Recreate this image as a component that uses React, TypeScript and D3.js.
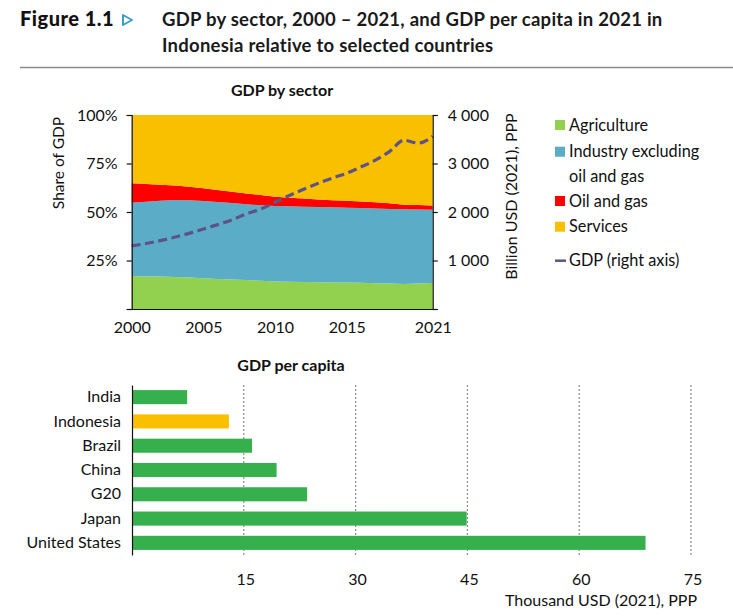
import React, { useEffect, useRef } from "react";
import * as d3 from "d3";

const years = [2000,2001,2002,2003,2004,2005,2006,2007,2008,2009,2010,2011,2012,2013,2014,2015,2016,2017,2018,2019,2020,2021];
const agriculture = [17.0,16.8,16.7,16.5,16.2,15.8,15.5,15.2,14.9,14.6,14.2,14.0,13.9,13.8,13.7,13.6,13.5,13.3,13.1,12.9,13.2,13.4];
const industry = [37.8,38.5,39.1,39.7,39.9,39.9,39.7,39.4,39.1,38.9,38.9,38.9,38.8,38.8,38.7,38.6,38.5,38.5,38.5,38.5,38.1,37.8];
const oilGas = [10.0,9.1,8.2,7.5,6.9,6.5,6.1,5.8,5.6,5.3,4.8,4.5,4.2,3.9,3.7,3.6,3.4,3.2,2.9,2.4,2.3,2.2];
const services = [35.2,35.6,36.0,36.3,37.0,37.8,38.7,39.6,40.4,41.2,42.1,42.6,43.1,43.5,43.9,44.2,44.6,45.0,45.5,46.2,46.4,46.6];
const gdp = [1300,1350,1410,1480,1560,1650,1740,1840,1960,2060,2200,2340,2470,2590,2700,2800,2930,3070,3250,3480,3420,3560];

const sectorKeys = ["Agriculture", "Industry excluding oil and gas", "Oil and gas", "Services"];
const sectorColors = ["#92D050", "#5BACC6", "#FF0000", "#F9C000"];
const yearTicks = [2000, 2005, 2010, 2015, 2021];
const shareTicks = [0, 0.25, 0.5, 0.75, 1];
const gdpTicks = [0, 1000, 2000, 3000, 4000];

const countries = ["India", "Indonesia", "Brazil", "China", "G20", "Japan", "United States"];
const gdpPerCapita = [7.4, 13.0, 16.1, 19.4, 23.5, 44.9, 68.9];
const capitaTicks = [15, 30, 45, 60, 75];

const FONT = "Lato, 'Open Sans', sans-serif";
const FS = 16;

export default function App() {
  const ref = useRef<SVGSVGElement>(null);

  useEffect(() => {
    const svg = d3.select(ref.current);
    svg.selectAll("*").remove();

    // Header
    svg.append("text").attr("x", 20).attr("y", 26).text("Figure 1.1")
      .attr("font-family", FONT).attr("font-weight", 900).attr("font-size", 20).attr("letter-spacing", 0.5).attr("fill", "#111");
    svg.append("path").attr("d", "M123,15 L132,20 L123,25 Z")
      .attr("fill", "#fff").attr("stroke", "#3A9BD0").attr("stroke-width", 2).attr("stroke-linejoin", "round");
    svg.append("text").attr("x", 162).attr("y", 26).text("GDP by sector, 2000 \u2013 2021, and GDP per capita in 2021 in")
      .attr("font-family", FONT).attr("font-weight", 700).attr("font-size", 18.5).attr("letter-spacing", 0.25).attr("fill", "#1a1a1a");
    svg.append("text").attr("x", 162).attr("y", 52).text("Indonesia relative to selected countries")
      .attr("font-family", FONT).attr("font-weight", 700).attr("font-size", 18.5).attr("letter-spacing", 0.25).attr("fill", "#1a1a1a");
    svg.append("line").attr("x1", 20).attr("x2", 733).attr("y1", 67.5).attr("y2", 67.5)
      .attr("stroke", "#8a8a8a").attr("stroke-width", 1.5);

    // Top chart
    const x = d3.scaleLinear().domain([2000, 2021]).range([131.7, 432.7]);
    const y = d3.scaleLinear().domain([0, 1]).range([309, 115]);
    const yR = d3.scaleLinear().domain([0, 4000]).range([309, 115]);

    const rows = years.map((yr, i) => ({
      year: yr,
      [sectorKeys[0]]: agriculture[i] / 100,
      [sectorKeys[1]]: industry[i] / 100,
      [sectorKeys[2]]: oilGas[i] / 100,
      [sectorKeys[3]]: services[i] / 100,
    }));
    const series = d3.stack<any>().keys(sectorKeys)(rows as any);
    const area = d3.area<any>()
      .x((d) => x(d.data.year))
      .y0((d) => y(d[0]))
      .y1((d) => y(Math.min(1, d[1])));

    svg.append("g").selectAll("path").data(series).join("path")
      .attr("d", area as any)
      .attr("fill", (_d, i) => sectorColors[i]);

    const line = d3.line<number>().x((_d, i) => x(years[i])).y((d) => yR(d)).curve(d3.curveMonotoneX);
    svg.append("path").datum(gdp).attr("d", line)
      .attr("fill", "none").attr("stroke", "#5E5386").attr("stroke-width", 3.2)
      .attr("stroke-dasharray", "9,4.5");

    const leftAxis = svg.append("g").attr("transform", "translate(131.7,0)")
      .call(d3.axisLeft(y).tickValues(shareTicks).tickSize(5).tickPadding(9)
        .tickFormat((d: any) => (d === 0 ? "" : `${Math.round(d * 100)}%`)));
    const rightAxis = svg.append("g").attr("transform", "translate(432.7,0)")
      .call(d3.axisRight(yR).tickValues(gdpTicks).tickSize(5).tickPadding(10)
        .tickFormat((d: any) => (d === 0 ? "" : `${d / 1000} 000`)));
    const bottomAxis = svg.append("g").attr("transform", "translate(0,309)")
      .call(d3.axisBottom(x).tickValues(yearTicks).tickSize(0).tickPadding(13).tickFormat(d3.format("d")));

    [leftAxis, rightAxis, bottomAxis].forEach((g) => {
      g.selectAll("text").attr("font-family", FONT).attr("font-size", FS).attr("fill", "#111");
      g.selectAll("path,line").attr("stroke", "#111").attr("stroke-width", 1.2);
    });

    svg.append("text").attr("x", 282).attr("y", 96).attr("text-anchor", "middle").text("GDP by sector")
      .attr("font-family", FONT).attr("font-weight", 700).attr("font-size", 16).attr("fill", "#111");
    svg.append("text").attr("transform", "translate(64,163) rotate(-90)").attr("text-anchor", "middle")
      .text("Share of GDP").attr("font-family", FONT).attr("font-size", 15.5).attr("fill", "#111");
    svg.append("text").attr("transform", "translate(517,196.5) rotate(-90)").attr("text-anchor", "middle")
      .text("Billion USD (2021), PPP").attr("font-family", FONT).attr("font-size", FS).attr("fill", "#111");

    // Legend
    const legendItems = [
      { label: ["Agriculture"], color: sectorColors[0], y: 125 },
      { label: ["Industry excluding", "oil and gas"], color: sectorColors[1], y: 151.7 },
      { label: ["Oil and gas"], color: sectorColors[2], y: 201 },
      { label: ["Services"], color: sectorColors[3], y: 226.7 },
    ];
    legendItems.forEach((it) => {
      svg.append("rect").attr("x", 555).attr("y", it.y - 5).attr("width", 10).attr("height", 10).attr("fill", it.color);
      it.label.forEach((l, j) => {
        svg.append("text").attr("x", 569).attr("y", it.y + 5.5 + j * 25).text(l)
          .attr("font-family", FONT).attr("font-size", 16.3).attr("fill", "#111");
      });
    });
    svg.append("line").attr("x1", 555).attr("x2", 566).attr("y1", 260.7).attr("y2", 260.7)
      .attr("stroke", "#5E5386").attr("stroke-width", 2.5);
    svg.append("text").attr("x", 569).attr("y", 266.2).text("GDP (right axis)")
      .attr("font-family", FONT).attr("font-size", 16.3).attr("fill", "#111");

    // Bottom chart
    const xb = d3.scaleLinear().domain([0, 75]).range([132, 691]);
    const yb = d3.scaleBand().domain(countries).range([385, 555]).paddingInner(0.42).paddingOuter(0.21);

    svg.append("text").attr("x", 291).attr("y", 371).attr("text-anchor", "middle").text("GDP per capita")
      .attr("font-family", FONT).attr("font-weight", 700).attr("font-size", 16).attr("fill", "#111");

    svg.append("g").selectAll("line").data(capitaTicks).join("line")
      .attr("x1", (d) => xb(d)).attr("x2", (d) => xb(d)).attr("y1", 385).attr("y2", 555)
      .attr("stroke", "#8c8c8c").attr("stroke-width", 1.2).attr("stroke-dasharray", "2,2");

    svg.append("g").selectAll("rect").data(countries).join("rect")
      .attr("x", xb(0)).attr("y", (d) => yb(d)!)
      .attr("width", (_d, i) => xb(gdpPerCapita[i]) - xb(0)).attr("height", yb.bandwidth())
      .attr("fill", (d) => (d === "Indonesia" ? "#FAC000" : "#36B04D"));

    const bl = svg.append("g").attr("transform", "translate(132,0)")
      .call(d3.axisLeft(yb).tickSize(0).tickPadding(11));
    bl.selectAll("text").attr("font-family", FONT).attr("font-size", FS).attr("fill", "#111");
    bl.select(".domain").attr("stroke", "#111").attr("stroke-width", 1.2);

    svg.append("g").selectAll("text").data(capitaTicks).join("text")
      .attr("x", (d) => xb(d) + 2).attr("y", 584.5).attr("text-anchor", "middle").text((d) => d)
      .attr("font-family", FONT).attr("font-size", FS).attr("fill", "#111");
    svg.append("text").attr("x", 697).attr("y", 605.5).attr("text-anchor", "end").text("Thousand USD (2021), PPP")
      .attr("font-family", FONT).attr("font-size", FS).attr("fill", "#111");
  }, []);

  return (
    <svg ref={ref} width={733} height={616}
      style={{ position: "absolute", left: 0, top: 0, background: "#fff" }} />
  );
}
